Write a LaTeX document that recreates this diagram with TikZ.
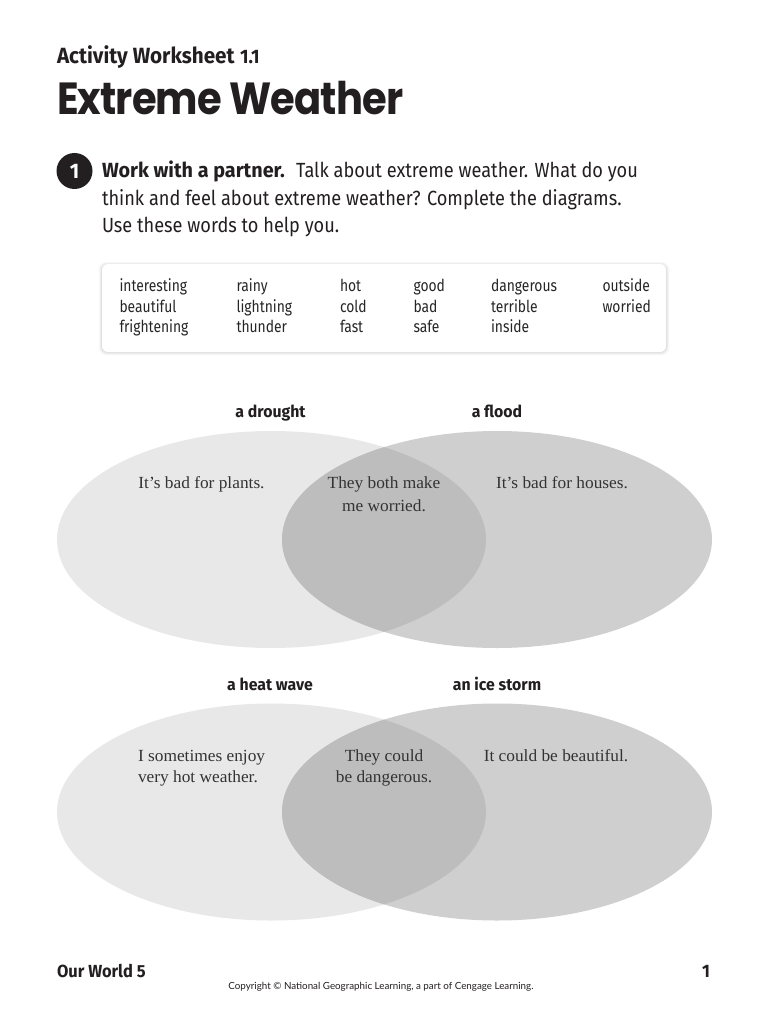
\documentclass[tikz,border=0pt]{standalone}
\usepackage{fontspec}
\setmainfont{Liberation Serif}
\newfontfamily\bodyf[FakeStretch=0.886]{Fira Sans}
\newfontfamily\boldf[FakeStretch=0.965]{Fira Sans}
\newfontfamily\listf[FakeStretch=0.84]{Fira Sans}
\newfontfamily\headingf[FakeStretch=0.96]{Fira Sans}
\newfontfamily\sheetf[FakeStretch=0.94]{Fira Sans}
\newfontfamily\titlef[FakeStretch=0.89,LetterSpace=-2]{Poppins}
\newfontfamily\hwf[FakeStretch=1.02]{Liberation Serif}
\newfontfamily\footf{Lato}
\definecolor{ink}{HTML}{231F20}
\definecolor{lefte}{HTML}{E8E8E8}
\definecolor{righte}{HTML}{CFCFCF}
\definecolor{both}{HTML}{BDBDBD}
\tikzset{
  txt/.style={inner sep=0pt,outer sep=0pt,anchor=base west,text=ink},
  ctr/.style={inner sep=0pt,outer sep=0pt,anchor=base,text=ink},
  wordf/.style={txt,font=\listf\fontsize{16.5}{18}\selectfont,text=black!85},
  headf/.style={ctr,font=\headingf\bfseries\fontsize{16.5}{18}\selectfont},
  hand/.style={ctr,font=\hwf\fontsize{17}{20}\selectfont,text=black!80},
  instr/.style={txt,font=\bodyf\fontsize{20.5}{24}\selectfont},
}
\begin{document}
\begin{tikzpicture}[x=1pt,y=-1pt]
\useasboundingbox (0,0) rectangle (768,1024);
\fill[white] (0,0) rectangle (768,1024);
% headings
\node[txt,font=\sheetf\bfseries\fontsize{22}{24}\selectfont] (sheet) at (57,63.7) {Activity Worksheet\hspace{0.25em}{\fontsize{19.5}{20}\selectfont 1.1}};
\node[txt,font=\titlef\bfseries\fontsize{45}{50}\selectfont] (title) at (57,115) {Extreme Weather};
% step number
\node[circle,fill=ink,minimum size=36pt,inner sep=0pt,text=white,font=\boldf\bfseries\fontsize{21}{24}\selectfont] (num) at (74.5,171) {1};
\node[instr] (l1) at (102,177.7) {{\boldf\bfseries Work with a partner.}\hspace{0.55em}Talk about extreme weather. What do you};
\node[instr] (l2) at (102,205.5) {think and feel about extreme weather? Complete the diagrams.};
\node[instr] (l3) at (102,232.5) {Use these words to help you.};
% word box
\foreach \o/\c in {3/black!3,2/black!7,1/black!12}{
  \fill[\c,rounded corners=7pt] (102-\o,264-\o+1) rectangle (666+\o,352+\o);
}
\fill[white,rounded corners=6pt] (102,264) rectangle (666,352);
\foreach \x/\a/\b/\c [count=\i] in {119.5/interesting/beautiful/frightening,236.5/rainy/lightning/thunder,340/hot/cold/fast,413.5/good/bad/safe,491/dangerous/terrible/inside}{
  \node[wordf] (wa\i) at (\x,291) {\a};
  \node[wordf] (wb\i) at (\x,312) {\b};
  \node[wordf] (wc\i) at (\x,332.5) {\c};
}
\node[wordf] (wa6) at (602.5,291) {outside};
\node[wordf] (wb6) at (602.5,312) {worried};
% Venn diagrams
\foreach \y in {539.5,812}{
  \fill[lefte] (271.5,\y) ellipse [x radius=214.5,y radius=108.5];
  \fill[righte] (497,\y) ellipse [x radius=215,y radius=108.5];
  \begin{scope}
    \clip (271.5,\y) ellipse [x radius=214.5,y radius=108.5];
    \fill[both] (497,\y) ellipse [x radius=215,y radius=108.5];
  \end{scope}
}
\node[headf] (h1) at (270.5,417) {a drought};
\node[headf] (h2) at (497,417) {a flood};
\node[hand] (t1) at (201.5,488.3) {It’s bad for plants.};
\node[hand] (t2) at (384,488.3) {They both make};
\node[hand] (t3) at (384,511.3) {me worried.};
\node[hand] (t4) at (562,488.3) {It’s bad for houses.};
\node[headf] (h3) at (270,690) {a heat wave};
\node[headf] (h4) at (497,690) {an ice storm};
\node[hand,anchor=base west] (t5) at (138,761.3) {I sometimes enjoy};
\node[hand,anchor=base west] (t6) at (138,782.8) {very hot weather.};
\node[hand] (t7) at (384,761.3) {They could};
\node[hand] (t8) at (384,782.8) {be dangerous.};
\node[hand] (t9) at (556,761.3) {It could be beautiful.};
% footer
\node[txt,font=\sheetf\bfseries\fontsize{17.5}{20}\selectfont] (f1) at (57,977) {Our World 5};
\node[ctr,font=\sheetf\bfseries\fontsize{18}{20}\selectfont] (f2) at (706,977) {1};
\node[ctr,font=\footf\fontsize{9.8}{12}\selectfont] (f3) at (381,989) {Copyright © National Geographic Learning, a part of Cengage Learning.};
\end{tikzpicture}
\end{document}
